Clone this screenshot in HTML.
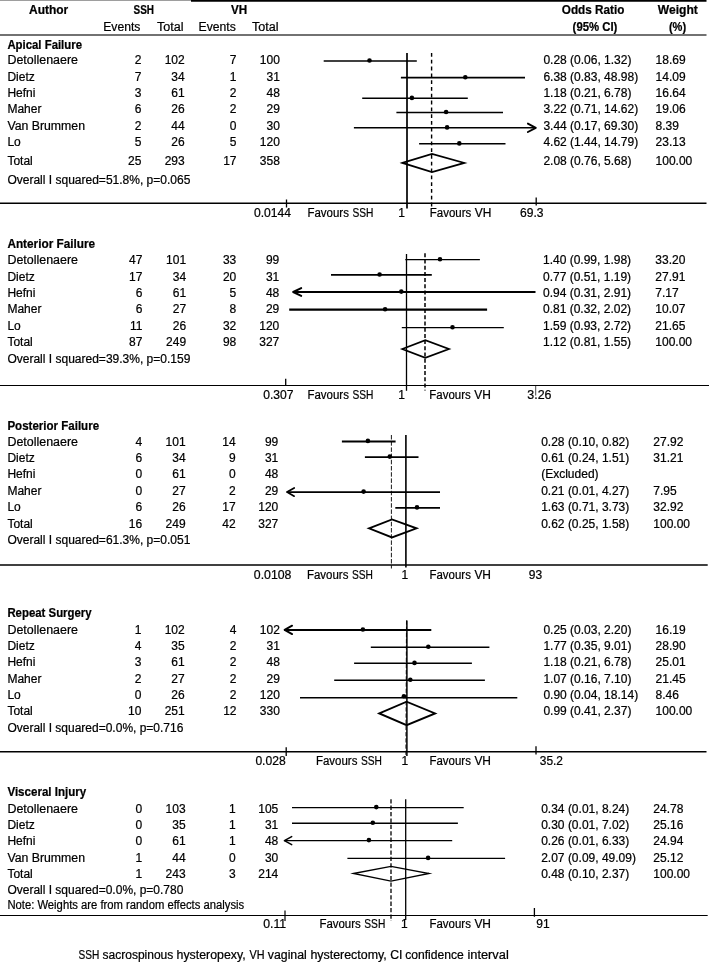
<!DOCTYPE html>
<html lang="en">
<head>
<meta charset="utf-8">
<title>Forest plot: SSH vs VH</title>
<style>
html,body{margin:0;padding:0;background:#fff;}
svg{display:block;}
svg text{font-family:"Liberation Sans",sans-serif;font-size:12.0px;fill:#000;stroke:#000;stroke-width:0.22px;}
</style>
</head>
<body>
<svg role="img" aria-label="Forest plot comparing sacrospinous hysteropexy and vaginal hysterectomy" width="709" height="962" viewBox="0 0 709 962" stroke="#000" fill="#000">
<rect x="0" y="0" width="709" height="962" fill="#fff" stroke="none"/>
<line x1="0.0" y1="0.4" x2="191.0" y2="0.4" stroke-width="0.8" stroke="#777"/>
<line x1="191.0" y1="0.8" x2="706.5" y2="0.8" stroke-width="1.8"/>
<line x1="0.0" y1="35.0" x2="706.5" y2="35.0" stroke-width="2.0" stroke="#727272"/>
<text x="29.0" y="14.1" font-weight="bold" textLength="39.2" lengthAdjust="spacingAndGlyphs">Author</text>
<text x="133.5" y="14.1" font-weight="bold" textLength="20.5" lengthAdjust="spacingAndGlyphs">SSH</text>
<text x="231.0" y="14.1" font-weight="bold" textLength="16.2" lengthAdjust="spacingAndGlyphs">VH</text>
<text x="561.8" y="14.1" font-weight="bold" textLength="62.6" lengthAdjust="spacingAndGlyphs">Odds Ratio</text>
<text x="572.6" y="30.6" font-weight="bold" textLength="44.8" lengthAdjust="spacingAndGlyphs">(95% CI)</text>
<text x="657.8" y="14.1" font-weight="bold" textLength="40.0" lengthAdjust="spacingAndGlyphs">Weight</text>
<text x="668.9" y="30.6" font-weight="bold" textLength="17.2" lengthAdjust="spacingAndGlyphs">(%)</text>
<text x="103.2" y="30.8" textLength="37.2" lengthAdjust="spacingAndGlyphs">Events</text>
<text x="157.0" y="30.8" textLength="26.6" lengthAdjust="spacingAndGlyphs">Total</text>
<text x="198.6" y="30.8" textLength="37.2" lengthAdjust="spacingAndGlyphs">Events</text>
<text x="252.0" y="30.8" textLength="26.6" lengthAdjust="spacingAndGlyphs">Total</text>
<text x="7.4" y="48.5" font-weight="bold" textLength="74.6" lengthAdjust="spacingAndGlyphs">Apical Failure</text>
<text x="7.4" y="64.3" textLength="70.6" lengthAdjust="spacingAndGlyphs">Detollenaere</text>
<text x="141.4" y="64.3" text-anchor="end">2</text>
<text x="184.7" y="64.3" text-anchor="end">102</text>
<text x="236.5" y="64.3" text-anchor="end">7</text>
<text x="279.9" y="64.3" text-anchor="end">100</text>
<text x="543.4" y="64.3">0.28 (0.06, 1.32)</text>
<text x="655.6" y="64.3">18.69</text>
<text x="7.4" y="80.6">Dietz</text>
<text x="141.4" y="80.6" text-anchor="end">7</text>
<text x="184.7" y="80.6" text-anchor="end">34</text>
<text x="236.5" y="80.6" text-anchor="end">1</text>
<text x="279.9" y="80.6" text-anchor="end">31</text>
<text x="543.4" y="80.6">6.38 (0.83, 48.98)</text>
<text x="655.6" y="80.6">14.09</text>
<text x="7.4" y="97.0">Hefni</text>
<text x="141.4" y="97.0" text-anchor="end">3</text>
<text x="184.7" y="97.0" text-anchor="end">61</text>
<text x="236.5" y="97.0" text-anchor="end">2</text>
<text x="279.9" y="97.0" text-anchor="end">48</text>
<text x="543.4" y="97.0">1.18 (0.21, 6.78)</text>
<text x="655.6" y="97.0">16.64</text>
<text x="7.4" y="113.3">Maher</text>
<text x="141.4" y="113.3" text-anchor="end">6</text>
<text x="184.7" y="113.3" text-anchor="end">26</text>
<text x="236.5" y="113.3" text-anchor="end">2</text>
<text x="279.9" y="113.3" text-anchor="end">29</text>
<text x="543.4" y="113.3">3.22 (0.71, 14.62)</text>
<text x="655.6" y="113.3">19.06</text>
<text x="7.4" y="129.9" textLength="77.6" lengthAdjust="spacingAndGlyphs">Van Brummen</text>
<text x="141.4" y="129.9" text-anchor="end">2</text>
<text x="184.7" y="129.9" text-anchor="end">44</text>
<text x="236.5" y="129.9" text-anchor="end">0</text>
<text x="279.9" y="129.9" text-anchor="end">30</text>
<text x="543.4" y="129.9">3.44 (0.17, 69.30)</text>
<text x="655.6" y="129.9">8.39</text>
<text x="7.4" y="146.2">Lo</text>
<text x="141.4" y="146.2" text-anchor="end">5</text>
<text x="184.7" y="146.2" text-anchor="end">26</text>
<text x="236.5" y="146.2" text-anchor="end">5</text>
<text x="279.9" y="146.2" text-anchor="end">120</text>
<text x="543.4" y="146.2">4.62 (1.44, 14.79)</text>
<text x="655.6" y="146.2">23.13</text>
<text x="7.4" y="164.8">Total</text>
<text x="141.4" y="164.8" text-anchor="end">25</text>
<text x="184.7" y="164.8" text-anchor="end">293</text>
<text x="236.5" y="164.8" text-anchor="end">17</text>
<text x="279.9" y="164.8" text-anchor="end">358</text>
<text x="543.4" y="164.8">2.08 (0.76, 5.68)</text>
<text x="655.6" y="164.8">100.00</text>
<text x="7.4" y="183.9" textLength="183.0" lengthAdjust="spacingAndGlyphs">Overall I squared=51.8%, p=0.065</text>
<line x1="0.0" y1="203.3" x2="706.5" y2="203.3" stroke-width="1.5"/>
<line x1="407.0" y1="53.0" x2="407.0" y2="208.5" stroke-width="1.7"/>
<line x1="431.6" y1="53.0" x2="431.6" y2="209.0" stroke-width="1.4" stroke-dasharray="3.8,3.0"/>
<line x1="323.7" y1="60.9" x2="416.8" y2="60.9" stroke-width="1.55"/>
<circle cx="369.5" cy="60.5" r="2.3" fill="#000" stroke="none"/>
<line x1="400.9" y1="77.6" x2="525.0" y2="77.6" stroke-width="1.55"/>
<circle cx="465.3" cy="77.2" r="2.3" fill="#000" stroke="none"/>
<line x1="362.2" y1="98.3" x2="467.8" y2="98.3" stroke-width="1.55"/>
<circle cx="411.9" cy="97.9" r="2.3" fill="#000" stroke="none"/>
<line x1="396.4" y1="112.4" x2="503.0" y2="112.4" stroke-width="1.55"/>
<circle cx="446.1" cy="112.0" r="2.3" fill="#000" stroke="none"/>
<line x1="353.9" y1="127.8" x2="536.0" y2="127.8" stroke-width="1.55"/>
<circle cx="447.1" cy="127.4" r="2.3" fill="#000" stroke="none"/>
<line x1="419.1" y1="143.8" x2="505.5" y2="143.8" stroke-width="1.55"/>
<circle cx="459.3" cy="143.4" r="2.3" fill="#000" stroke="none"/>
<polyline points="527.9,123.6 535.8,127.8 527.9,132.0" fill="none" stroke-width="1.9" stroke-linecap="round" stroke-linejoin="round"/>
<polygon points="402.4,162.9 432.0,153.9 464.4,162.9 432.0,172.1" fill="none" stroke-width="1.7" stroke-linejoin="miter" stroke-miterlimit="12"/>
<line x1="286.5" y1="199.5" x2="286.5" y2="207.5" stroke-width="1.3"/>
<line x1="536.2" y1="197.5" x2="536.2" y2="205.5" stroke-width="1.3"/>
<text x="254.0" y="217.2" textLength="37.0" lengthAdjust="spacingAndGlyphs">0.0144</text>
<text y="217.2"><tspan x="307.5" textLength="41.4" lengthAdjust="spacingAndGlyphs">Favours</tspan> <tspan x="352.4" textLength="21.0" lengthAdjust="spacingAndGlyphs">SSH</tspan></text>
<text x="398.2" y="217.2">1</text>
<text y="217.2"><tspan x="429.8" textLength="41.4" lengthAdjust="spacingAndGlyphs">Favours</tspan> <tspan x="474.7" textLength="16.6" lengthAdjust="spacingAndGlyphs">VH</tspan></text>
<text x="520.0" y="217.2" textLength="23.5" lengthAdjust="spacingAndGlyphs">69.3</text>
<text x="7.4" y="248.4" font-weight="bold" textLength="87.8" lengthAdjust="spacingAndGlyphs">Anterior Failure</text>
<text x="7.4" y="264.2" textLength="70.6" lengthAdjust="spacingAndGlyphs">Detollenaere</text>
<text x="142.4" y="264.2" text-anchor="end">47</text>
<text x="186.1" y="264.2" text-anchor="end">101</text>
<text x="236.3" y="264.2" text-anchor="end">33</text>
<text x="279.3" y="264.2" text-anchor="end">99</text>
<text x="543.0" y="264.2">1.40 (0.99, 1.98)</text>
<text x="655.3" y="264.2">33.20</text>
<text x="7.4" y="280.8">Dietz</text>
<text x="142.4" y="280.8" text-anchor="end">17</text>
<text x="186.1" y="280.8" text-anchor="end">34</text>
<text x="236.3" y="280.8" text-anchor="end">20</text>
<text x="279.3" y="280.8" text-anchor="end">31</text>
<text x="543.0" y="280.8">0.77 (0.51, 1.19)</text>
<text x="655.3" y="280.8">27.91</text>
<text x="7.4" y="297.1">Hefni</text>
<text x="142.4" y="297.1" text-anchor="end">6</text>
<text x="186.1" y="297.1" text-anchor="end">61</text>
<text x="236.3" y="297.1" text-anchor="end">5</text>
<text x="279.3" y="297.1" text-anchor="end">48</text>
<text x="543.0" y="297.1">0.94 (0.31, 2.91)</text>
<text x="655.3" y="297.1">7.17</text>
<text x="7.4" y="313.2">Maher</text>
<text x="142.4" y="313.2" text-anchor="end">6</text>
<text x="186.1" y="313.2" text-anchor="end">27</text>
<text x="236.3" y="313.2" text-anchor="end">8</text>
<text x="279.3" y="313.2" text-anchor="end">29</text>
<text x="543.0" y="313.2">0.81 (0.32, 2.02)</text>
<text x="655.3" y="313.2">10.07</text>
<text x="7.4" y="329.5">Lo</text>
<text x="142.4" y="329.5" text-anchor="end">11</text>
<text x="186.1" y="329.5" text-anchor="end">26</text>
<text x="236.3" y="329.5" text-anchor="end">32</text>
<text x="279.3" y="329.5" text-anchor="end">120</text>
<text x="543.0" y="329.5">1.59 (0.93, 2.72)</text>
<text x="655.3" y="329.5">21.65</text>
<text x="7.4" y="346.1">Total</text>
<text x="142.4" y="346.1" text-anchor="end">87</text>
<text x="186.1" y="346.1" text-anchor="end">249</text>
<text x="236.3" y="346.1" text-anchor="end">98</text>
<text x="279.3" y="346.1" text-anchor="end">327</text>
<text x="543.0" y="346.1">1.12 (0.81, 1.55)</text>
<text x="655.3" y="346.1">100.00</text>
<text x="7.4" y="362.9" textLength="183.0" lengthAdjust="spacingAndGlyphs">Overall I squared=39.3%, p=0.159</text>
<line x1="0.0" y1="385.5" x2="709.0" y2="385.5" stroke-width="1.1"/>
<line x1="406.5" y1="254.0" x2="406.5" y2="390.8" stroke-width="1.3"/>
<line x1="425.0" y1="253.3" x2="425.0" y2="390.5" stroke-width="1.5" stroke-dasharray="4.0,2.2"/>
<line x1="405.3" y1="259.6" x2="479.9" y2="259.6" stroke-width="1.2"/>
<circle cx="440.0" cy="259.2" r="2.3" fill="#000" stroke="none"/>
<line x1="331.0" y1="274.9" x2="431.8" y2="274.9" stroke-width="1.9"/>
<circle cx="379.6" cy="274.5" r="2.3" fill="#000" stroke="none"/>
<line x1="293.5" y1="292.0" x2="535.5" y2="292.0" stroke-width="2.1"/>
<circle cx="401.3" cy="291.6" r="2.3" fill="#000" stroke="none"/>
<line x1="289.2" y1="309.6" x2="487.1" y2="309.6" stroke-width="2.1"/>
<circle cx="385.1" cy="309.2" r="2.3" fill="#000" stroke="none"/>
<line x1="401.8" y1="327.7" x2="503.8" y2="327.7" stroke-width="1.2"/>
<circle cx="452.5" cy="327.3" r="2.3" fill="#000" stroke="none"/>
<polyline points="301.2,288.1 293.2,292.0 301.2,295.9" fill="none" stroke-width="2.0" stroke-linecap="round" stroke-linejoin="round"/>
<polygon points="402.3,349.0 425.3,340.2 448.9,349.0 425.3,357.9" fill="none" stroke-width="1.8" stroke-linejoin="miter" stroke-miterlimit="12"/>
<line x1="285.7" y1="378.7" x2="285.7" y2="385.7" stroke-width="1.3"/>
<line x1="535.7" y1="386.0" x2="535.7" y2="395.5" stroke-width="0.9" stroke="#333"/>
<text x="263.2" y="398.5" textLength="30.3" lengthAdjust="spacingAndGlyphs">0.307</text>
<text y="398.5"><tspan x="307.5" textLength="41.4" lengthAdjust="spacingAndGlyphs">Favours</tspan> <tspan x="352.4" textLength="21.0" lengthAdjust="spacingAndGlyphs">SSH</tspan></text>
<text x="398.2" y="398.5">1</text>
<text y="398.5"><tspan x="429.3" textLength="41.4" lengthAdjust="spacingAndGlyphs">Favours</tspan> <tspan x="474.2" textLength="16.6" lengthAdjust="spacingAndGlyphs">VH</tspan></text>
<text x="527.3" y="398.5" textLength="24.2" lengthAdjust="spacingAndGlyphs">3.26</text>
<text x="7.4" y="429.9" font-weight="bold" textLength="91.7" lengthAdjust="spacingAndGlyphs">Posterior Failure</text>
<text x="7.4" y="446.2" textLength="70.6" lengthAdjust="spacingAndGlyphs">Detollenaere</text>
<text x="142.2" y="446.2" text-anchor="end">4</text>
<text x="185.6" y="446.2" text-anchor="end">101</text>
<text x="235.6" y="446.2" text-anchor="end">14</text>
<text x="278.3" y="446.2" text-anchor="end">99</text>
<text x="541.2" y="446.2">0.28 (0.10, 0.82)</text>
<text x="653.3" y="446.2">27.92</text>
<text x="7.4" y="462.0">Dietz</text>
<text x="142.2" y="462.0" text-anchor="end">6</text>
<text x="185.6" y="462.0" text-anchor="end">34</text>
<text x="235.6" y="462.0" text-anchor="end">9</text>
<text x="278.3" y="462.0" text-anchor="end">31</text>
<text x="541.2" y="462.0">0.61 (0.24, 1.51)</text>
<text x="653.3" y="462.0">31.21</text>
<text x="7.4" y="478.4">Hefni</text>
<text x="142.2" y="478.4" text-anchor="end">0</text>
<text x="185.6" y="478.4" text-anchor="end">61</text>
<text x="235.6" y="478.4" text-anchor="end">0</text>
<text x="278.3" y="478.4" text-anchor="end">48</text>
<text x="541.2" y="478.4">(Excluded)</text>
<text x="7.4" y="494.9">Maher</text>
<text x="142.2" y="494.9" text-anchor="end">0</text>
<text x="185.6" y="494.9" text-anchor="end">27</text>
<text x="235.6" y="494.9" text-anchor="end">2</text>
<text x="278.3" y="494.9" text-anchor="end">29</text>
<text x="541.2" y="494.9">0.21 (0.01, 4.27)</text>
<text x="653.3" y="494.9">7.95</text>
<text x="7.4" y="511.0">Lo</text>
<text x="142.2" y="511.0" text-anchor="end">6</text>
<text x="185.6" y="511.0" text-anchor="end">26</text>
<text x="235.6" y="511.0" text-anchor="end">17</text>
<text x="278.3" y="511.0" text-anchor="end">120</text>
<text x="541.2" y="511.0">1.63 (0.71, 3.73)</text>
<text x="653.3" y="511.0">32.92</text>
<text x="7.4" y="527.6">Total</text>
<text x="142.2" y="527.6" text-anchor="end">16</text>
<text x="185.6" y="527.6" text-anchor="end">249</text>
<text x="235.6" y="527.6" text-anchor="end">42</text>
<text x="278.3" y="527.6" text-anchor="end">327</text>
<text x="541.2" y="527.6">0.62 (0.25, 1.58)</text>
<text x="653.3" y="527.6">100.00</text>
<text x="7.4" y="544.1" textLength="183.0" lengthAdjust="spacingAndGlyphs">Overall I squared=61.3%, p=0.051</text>
<line x1="0.0" y1="565.1" x2="707.7" y2="565.1" stroke-width="1.5"/>
<line x1="405.9" y1="435.0" x2="405.9" y2="567.5" stroke-width="1.6"/>
<line x1="391.4" y1="435.0" x2="391.4" y2="568.5" stroke-width="0.9" stroke-dasharray="4.5,1.7"/>
<line x1="341.9" y1="441.4" x2="395.6" y2="441.4" stroke-width="2.0"/>
<circle cx="367.9" cy="440.9" r="2.3" fill="#000" stroke="none"/>
<line x1="364.9" y1="457.1" x2="418.5" y2="457.1" stroke-width="1.6"/>
<circle cx="389.8" cy="456.6" r="2.3" fill="#000" stroke="none"/>
<line x1="286.8" y1="492.1" x2="440.0" y2="492.1" stroke-width="1.6"/>
<circle cx="363.6" cy="491.6" r="2.3" fill="#000" stroke="none"/>
<line x1="395.3" y1="507.9" x2="440.0" y2="507.9" stroke-width="1.6"/>
<circle cx="417.0" cy="507.4" r="2.3" fill="#000" stroke="none"/>
<polyline points="294.2,488.0 287.0,492.1 294.2,496.2" fill="none" stroke-width="1.7" stroke-linecap="round" stroke-linejoin="round"/>
<polygon points="369.0,528.3 392.0,519.4 416.5,528.3 392.0,537.4" fill="none" stroke-width="1.9" stroke-linejoin="miter" stroke-miterlimit="12"/>
<text x="253.8" y="578.5" textLength="37.6" lengthAdjust="spacingAndGlyphs">0.0108</text>
<text y="578.5"><tspan x="307.0" textLength="41.4" lengthAdjust="spacingAndGlyphs">Favours</tspan> <tspan x="351.9" textLength="21.0" lengthAdjust="spacingAndGlyphs">SSH</tspan></text>
<text x="401.4" y="578.5">1</text>
<text y="578.5"><tspan x="429.5" textLength="41.4" lengthAdjust="spacingAndGlyphs">Favours</tspan> <tspan x="474.4" textLength="16.6" lengthAdjust="spacingAndGlyphs">VH</tspan></text>
<text x="528.8" y="578.5">93</text>
<text x="7.4" y="617.4" font-weight="bold" textLength="84.2" lengthAdjust="spacingAndGlyphs">Repeat Surgery</text>
<text x="7.4" y="633.8" textLength="70.6" lengthAdjust="spacingAndGlyphs">Detollenaere</text>
<text x="141.4" y="633.8" text-anchor="end">1</text>
<text x="184.7" y="633.8" text-anchor="end">102</text>
<text x="236.5" y="633.8" text-anchor="end">4</text>
<text x="279.9" y="633.8" text-anchor="end">102</text>
<text x="543.4" y="633.8">0.25 (0.03, 2.20)</text>
<text x="655.6" y="633.8">16.19</text>
<text x="7.4" y="650.1">Dietz</text>
<text x="141.4" y="650.1" text-anchor="end">4</text>
<text x="184.7" y="650.1" text-anchor="end">35</text>
<text x="236.5" y="650.1" text-anchor="end">2</text>
<text x="279.9" y="650.1" text-anchor="end">31</text>
<text x="543.4" y="650.1">1.77 (0.35, 9.01)</text>
<text x="655.6" y="650.1">28.90</text>
<text x="7.4" y="666.1">Hefni</text>
<text x="141.4" y="666.1" text-anchor="end">3</text>
<text x="184.7" y="666.1" text-anchor="end">61</text>
<text x="236.5" y="666.1" text-anchor="end">2</text>
<text x="279.9" y="666.1" text-anchor="end">48</text>
<text x="543.4" y="666.1">1.18 (0.21, 6.78)</text>
<text x="655.6" y="666.1">25.01</text>
<text x="7.4" y="682.7">Maher</text>
<text x="141.4" y="682.7" text-anchor="end">2</text>
<text x="184.7" y="682.7" text-anchor="end">27</text>
<text x="236.5" y="682.7" text-anchor="end">2</text>
<text x="279.9" y="682.7" text-anchor="end">29</text>
<text x="543.4" y="682.7">1.07 (0.16, 7.10)</text>
<text x="655.6" y="682.7">21.45</text>
<text x="7.4" y="698.8">Lo</text>
<text x="141.4" y="698.8" text-anchor="end">0</text>
<text x="184.7" y="698.8" text-anchor="end">26</text>
<text x="236.5" y="698.8" text-anchor="end">2</text>
<text x="279.9" y="698.8" text-anchor="end">120</text>
<text x="543.4" y="698.8">0.90 (0.04, 18.14)</text>
<text x="655.6" y="698.8">8.46</text>
<text x="7.4" y="715.1">Total</text>
<text x="141.4" y="715.1" text-anchor="end">10</text>
<text x="184.7" y="715.1" text-anchor="end">251</text>
<text x="236.5" y="715.1" text-anchor="end">12</text>
<text x="279.9" y="715.1" text-anchor="end">330</text>
<text x="543.4" y="715.1">0.99 (0.41, 2.37)</text>
<text x="655.6" y="715.1">100.00</text>
<text x="7.4" y="731.7" textLength="176.0" lengthAdjust="spacingAndGlyphs">Overall I squared=0.0%, p=0.716</text>
<line x1="0.0" y1="751.7" x2="706.5" y2="751.7" stroke-width="1.5"/>
<line x1="406.9" y1="620.5" x2="406.9" y2="756.0" stroke-width="1.5"/>
<line x1="406.5" y1="620.5" x2="405.9" y2="756.0" stroke-width="0.9" stroke-dasharray="4.2,2.0"/>
<line x1="284.2" y1="629.9" x2="431.3" y2="629.9" stroke-width="2.0"/>
<circle cx="362.9" cy="629.5" r="2.3" fill="#000" stroke="none"/>
<line x1="370.8" y1="647.2" x2="489.4" y2="647.2" stroke-width="1.4"/>
<circle cx="428.3" cy="646.8" r="2.3" fill="#000" stroke="none"/>
<line x1="354.1" y1="663.3" x2="471.9" y2="663.3" stroke-width="1.4"/>
<circle cx="414.5" cy="662.9" r="2.3" fill="#000" stroke="none"/>
<line x1="334.2" y1="680.2" x2="484.9" y2="680.2" stroke-width="1.4"/>
<circle cx="410.3" cy="679.8" r="2.3" fill="#000" stroke="none"/>
<line x1="300.0" y1="697.8" x2="517.3" y2="697.8" stroke-width="1.4"/>
<circle cx="403.9" cy="696.3" r="2.3" fill="#000" stroke="none"/>
<polyline points="292.1,625.7 284.6,629.9 292.1,634.1" fill="none" stroke-width="1.9" stroke-linecap="round" stroke-linejoin="round"/>
<polygon points="379.3,713.4 406.6,701.7 435.1,713.4 406.6,725.1" fill="none" stroke-width="1.9" stroke-linejoin="miter" stroke-miterlimit="12"/>
<line x1="286.2" y1="747.3" x2="286.2" y2="756.0" stroke-width="1.3"/>
<line x1="536.0" y1="746.2" x2="536.0" y2="754.5" stroke-width="1.3"/>
<text x="255.4" y="765.3" textLength="30.3" lengthAdjust="spacingAndGlyphs">0.028</text>
<text y="765.3"><tspan x="316.0" textLength="41.4" lengthAdjust="spacingAndGlyphs">Favours</tspan> <tspan x="360.9" textLength="21.0" lengthAdjust="spacingAndGlyphs">SSH</tspan></text>
<text x="401.4" y="765.3">1</text>
<text y="765.3"><tspan x="429.5" textLength="41.4" lengthAdjust="spacingAndGlyphs">Favours</tspan> <tspan x="474.4" textLength="16.6" lengthAdjust="spacingAndGlyphs">VH</tspan></text>
<text x="539.8" y="765.3" textLength="23.2" lengthAdjust="spacingAndGlyphs">35.2</text>
<text x="7.4" y="796.3" font-weight="bold" textLength="78.8" lengthAdjust="spacingAndGlyphs">Visceral Injury</text>
<text x="7.4" y="813.0" textLength="70.6" lengthAdjust="spacingAndGlyphs">Detollenaere</text>
<text x="142.2" y="813.0" text-anchor="end">0</text>
<text x="185.6" y="813.0" text-anchor="end">103</text>
<text x="235.6" y="813.0" text-anchor="end">1</text>
<text x="278.3" y="813.0" text-anchor="end">105</text>
<text x="541.2" y="813.0">0.34 (0.01, 8.24)</text>
<text x="653.3" y="813.0">24.78</text>
<text x="7.4" y="829.0">Dietz</text>
<text x="142.2" y="829.0" text-anchor="end">0</text>
<text x="185.6" y="829.0" text-anchor="end">35</text>
<text x="235.6" y="829.0" text-anchor="end">1</text>
<text x="278.3" y="829.0" text-anchor="end">31</text>
<text x="541.2" y="829.0">0.30 (0.01, 7.02)</text>
<text x="653.3" y="829.0">25.16</text>
<text x="7.4" y="845.1">Hefni</text>
<text x="142.2" y="845.1" text-anchor="end">0</text>
<text x="185.6" y="845.1" text-anchor="end">61</text>
<text x="235.6" y="845.1" text-anchor="end">1</text>
<text x="278.3" y="845.1" text-anchor="end">48</text>
<text x="541.2" y="845.1">0.26 (0.01, 6.33)</text>
<text x="653.3" y="845.1">24.94</text>
<text x="7.4" y="861.9" textLength="77.6" lengthAdjust="spacingAndGlyphs">Van Brummen</text>
<text x="142.2" y="861.9" text-anchor="end">1</text>
<text x="185.6" y="861.9" text-anchor="end">44</text>
<text x="235.6" y="861.9" text-anchor="end">0</text>
<text x="278.3" y="861.9" text-anchor="end">30</text>
<text x="541.2" y="861.9">2.07 (0.09, 49.09)</text>
<text x="653.3" y="861.9">25.12</text>
<text x="7.4" y="877.7">Total</text>
<text x="142.2" y="877.7" text-anchor="end">1</text>
<text x="185.6" y="877.7" text-anchor="end">243</text>
<text x="235.6" y="877.7" text-anchor="end">3</text>
<text x="278.3" y="877.7" text-anchor="end">214</text>
<text x="541.2" y="877.7">0.48 (0.10, 2.37)</text>
<text x="653.3" y="877.7">100.00</text>
<text x="7.4" y="894.2" textLength="176.0" lengthAdjust="spacingAndGlyphs">Overall I squared=0.0%, p=0.780</text>
<line x1="0.0" y1="915.5" x2="707.7" y2="915.5" stroke-width="1.0"/>
<text x="7.4" y="908.9" textLength="236.8" lengthAdjust="spacingAndGlyphs" font-size="10.4">Note: Weights are from random effects analysis</text>
<line x1="405.7" y1="799.2" x2="405.7" y2="920.0" stroke-width="1.3"/>
<line x1="391.0" y1="799.2" x2="391.0" y2="921.0" stroke-width="1.3" stroke-dasharray="4.3,2.1"/>
<line x1="292.0" y1="807.6" x2="463.7" y2="807.6" stroke-width="1.4"/>
<circle cx="376.3" cy="807.1" r="2.3" fill="#000" stroke="none"/>
<line x1="292.0" y1="823.3" x2="457.9" y2="823.3" stroke-width="1.4"/>
<circle cx="372.8" cy="822.8" r="2.3" fill="#000" stroke="none"/>
<line x1="284.2" y1="840.6" x2="452.2" y2="840.6" stroke-width="1.4"/>
<circle cx="368.9" cy="840.1" r="2.3" fill="#000" stroke="none"/>
<line x1="347.4" y1="858.4" x2="505.1" y2="858.4" stroke-width="1.4"/>
<circle cx="428.1" cy="857.9" r="2.3" fill="#000" stroke="none"/>
<polyline points="291.7,836.6 284.4,840.6 291.7,844.6" fill="none" stroke-width="1.5" stroke-linecap="round" stroke-linejoin="round"/>
<polygon points="353.5,873.5 391.0,866.4 429.1,873.5 391.0,881.2" fill="none" stroke-width="1.3" stroke-linejoin="miter" stroke-miterlimit="12"/>
<line x1="285.0" y1="910.6" x2="285.0" y2="921.0" stroke-width="1.2"/>
<line x1="534.4" y1="908.0" x2="534.4" y2="916.8" stroke-width="1.3"/>
<text x="263.2" y="928.3" textLength="23.0" lengthAdjust="spacingAndGlyphs">0.11</text>
<text y="928.3"><tspan x="319.4" textLength="41.4" lengthAdjust="spacingAndGlyphs">Favours</tspan> <tspan x="364.3" textLength="21.0" lengthAdjust="spacingAndGlyphs">SSH</tspan></text>
<text x="400.9" y="928.3">1</text>
<text y="928.3"><tspan x="429.5" textLength="41.4" lengthAdjust="spacingAndGlyphs">Favours</tspan> <tspan x="474.4" textLength="16.6" lengthAdjust="spacingAndGlyphs">VH</tspan></text>
<text x="536.3" y="928.3">91</text>
<text y="959.2"><tspan x="78.4" textLength="20.8" lengthAdjust="spacingAndGlyphs">SSH</tspan> <tspan x="102.5" textLength="70.8" lengthAdjust="spacingAndGlyphs">sacrospinous</tspan> <tspan x="176.6" textLength="69.0" lengthAdjust="spacingAndGlyphs">hysteropexy,</tspan> <tspan x="249.6" textLength="15.0" lengthAdjust="spacingAndGlyphs">VH</tspan> <tspan x="267.8" textLength="39.0" lengthAdjust="spacingAndGlyphs">vaginal</tspan> <tspan x="310.4" textLength="76.4" lengthAdjust="spacingAndGlyphs">hysterectomy,</tspan> <tspan x="390.3" textLength="12.2" lengthAdjust="spacingAndGlyphs">CI</tspan> <tspan x="405.2" textLength="58.6" lengthAdjust="spacingAndGlyphs">confidence</tspan> <tspan x="467.4" textLength="41.4" lengthAdjust="spacingAndGlyphs">interval</tspan></text>
</svg>
</body>
</html>
